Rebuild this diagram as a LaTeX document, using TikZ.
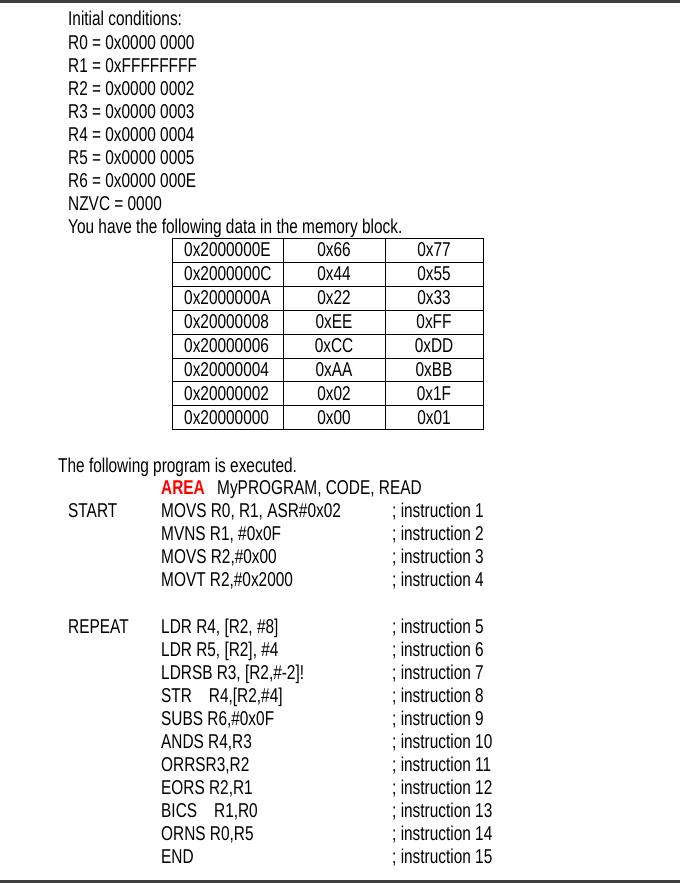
\documentclass[tikz,border=0pt]{standalone}
\usepackage{fontspec}
\setmainfont[FakeStretch=0.77]{Liberation Sans}
\begin{document}
\begin{tikzpicture}[x=1pt,y=-1pt,
  txt/.style={anchor=base west,inner sep=0pt,font=\fontsize{20}{22}\selectfont},
  ctxt/.style={anchor=base,inner sep=0pt,font=\fontsize{20}{22}\selectfont},
  rule/.style={line width=3pt,draw=black!75}]
\useasboundingbox (0,0) rectangle (680,883);
\draw[rule] (0,1.5) -- (680,1.5);
\draw[rule] (0,881.5) -- (680,881.5);
% initial conditions
\node[txt] (ic) at (68,26) {Initial conditions:};
\foreach \t [count=\i] in {R0 = 0x0000 0000,R1 = 0xFFFFFFFF,R2 = 0x0000 0002,R3 = 0x0000 0003,R4 = 0x0000 0004,R5 = 0x0000 0005,R6 = 0x0000 000E,NZVC = 0000}
  \node[txt] (r\i) at (68,26+23*\i) {\t};
\node[txt] (mem) at (68,233) {You have the following data in the memory block.};
% table
\draw[line width=0.8pt] (172,238) rectangle (483,429);
\foreach \y in {262,286,310,334,358,381,405} \draw[line width=0.8pt] (172,\y) -- (483,\y);
\draw[line width=0.8pt] (283,238) -- (283,429) (385,238) -- (385,429);
\foreach \a/\b/\c [count=\i] in {0x2000000E/0x66/0x77,0x2000000C/0x44/0x55,0x2000000A/0x22/0x33,0x20000008/0xEE/0xFF,0x20000006/0xCC/0xDD,0x20000004/0xAA/0xBB,0x20000002/0x02/0x1F,0x20000000/0x00/0x01}{
  \node[txt] (a\i) at (184,233+23.9*\i) {\a};
  \node[ctxt] (b\i) at (334,233+23.9*\i) {\b};
  \node[ctxt] (c\i) at (434,233+23.9*\i) {\c};
}
% program
\node[txt] (prog) at (58,472) {The following program is executed.};
\node[txt,text=red,font=\fontsize{20}{22}\selectfont\bfseries] (area) at (161,494) {AREA};
\node[txt] (myp) at (217,494) {MyPROGRAM, CODE, READ};
\node[txt] (start) at (68,517) {START};
\node[txt] (rep) at (68,633) {REPEAT};
\foreach \t [count=\i] in {{MOVS R0, R1, ASR\#0x02},{MVNS R1, \#0x0F},{MOVS R2,\#0x00},{MOVT R2,\#0x2000}}{
  \node[txt] (i\i) at (161,494+23*\i) {\t};
  \node[txt] (k\i) at (392,494+23*\i) {; instruction \i};
}
\foreach \t [count=\j] in {{LDR R4, [R2, \#8]},{LDR R5, [R2], \#4},{LDRSB R3, [R2,\#-2]!},{STR\hspace{0.85em}R4,[R2,\#4]},{SUBS R6,\#0x0F},{ANDS R4,R3},{ORRSR3,R2},{EORS R2,R1},{BICS\hspace{0.85em}R1,R0},{ORNS R0,R5},{END}}{
  \pgfmathtruncatemacro\n{\j+4}
  \node[txt] (i\n) at (161,610+23*\j) {\t};
  \node[txt] (k\n) at (392,610+23*\j) {; instruction \n};
}
\end{tikzpicture}
\end{document}
